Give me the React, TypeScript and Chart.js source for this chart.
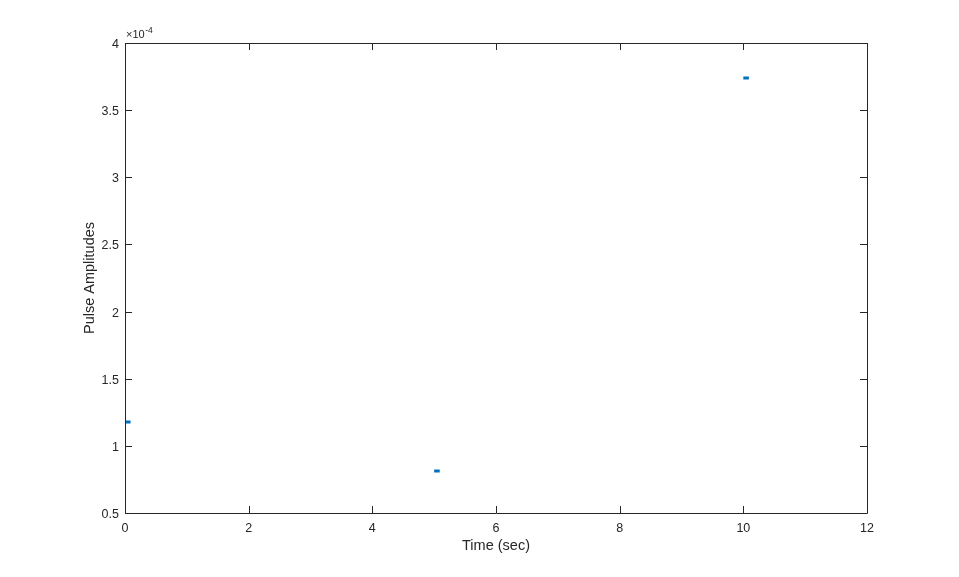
import React, { useEffect, useRef } from "react";
import { Chart, registerables } from "chart.js";

Chart.register(...registerables);

// Data
const pulseTimes = [0, 5, 10]; // sec
const pulseAmplitudes = [1.178e-4, 0.813e-4, 3.739e-4];
const pulseWidth = 0.09; // sec, visible length of each pulse segment
const xTicks = [0, 2, 4, 6, 8, 10, 12];
const yTicks = [0.5e-4, 1e-4, 1.5e-4, 2e-4, 2.5e-4, 3e-4, 3.5e-4, 4e-4];
const exponentLabel = { base: "\u00d710", exp: "-4" };

const AXIS_COLOR = "#262626";
const LINE_COLOR = "#0072BD";
const FONT = "'Liberation Sans', Arial, Helvetica, sans-serif";

const boxPlugin = {
  id: "matlabBox",
  afterDraw(chart: any) {
    const { ctx, chartArea } = chart;
    const { left, right, top, bottom } = chartArea;
    const xs = chart.scales.x;
    const ys = chart.scales.y;
    ctx.save();
    ctx.strokeStyle = AXIS_COLOR;
    ctx.lineWidth = 1;
    ctx.beginPath();
    ctx.rect(Math.round(left) + 0.5, Math.round(top) + 0.5, Math.round(right - left), Math.round(bottom - top));
    ctx.stroke();
    const tl = 7;
    ctx.beginPath();
    for (const v of xTicks) {
      const px = Math.round(xs.getPixelForValue(v)) + 0.5;
      ctx.moveTo(px, bottom);
      ctx.lineTo(px, bottom - tl);
      ctx.moveTo(px, top);
      ctx.lineTo(px, top + tl);
    }
    for (const v of yTicks) {
      const py = Math.round(ys.getPixelForValue(v)) + 0.5;
      ctx.moveTo(left, py);
      ctx.lineTo(left + tl, py);
      ctx.moveTo(right, py);
      ctx.lineTo(right - tl, py);
    }
    ctx.stroke();
    // exponent label
    ctx.fillStyle = AXIS_COLOR;
    ctx.textAlign = "left";
    ctx.textBaseline = "alphabetic";
    ctx.font = `11px ${FONT}`;
    const bx = left + 1;
    ctx.fillText(exponentLabel.base, bx, top - 5);
    const w = ctx.measureText(exponentLabel.base).width;
    ctx.font = `8.5px ${FONT}`;
    ctx.fillText(exponentLabel.exp, bx + w + 0.5, top - 10);
    ctx.restore();
  },
};

export default function App() {
  const ref = useRef<HTMLCanvasElement>(null);
  useEffect(() => {
    document.body.style.margin = "0";
    const data: any[] = [];
    pulseTimes.forEach((t, i) => {
      data.push({ x: t, y: pulseAmplitudes[i] });
      data.push({ x: t + pulseWidth, y: pulseAmplitudes[i] });
      data.push({ x: t + pulseWidth, y: null });
    });
    const chart = new Chart(ref.current as HTMLCanvasElement, {
      type: "line",
      data: {
        datasets: [
          {
            data,
            borderColor: LINE_COLOR,
            borderWidth: 3,
            pointRadius: 0,
            spanGaps: false,
            borderCapStyle: "butt",
          } as any,
        ],
      },
      options: {
        animation: false,
        responsive: false,
        maintainAspectRatio: false,
        layout: { padding: { top: 43, right: 92, left: 0, bottom: 0 } },
        plugins: { legend: { display: false }, tooltip: { enabled: false } },
        scales: {
          x: {
            type: "linear",
            min: 0,
            max: 12,
            afterBuildTicks: (s: any) => {
              s.ticks = xTicks.map((v) => ({ value: v }));
            },
            afterFit: (s: any) => {
              s.height = 64;
            },
            grid: { display: false, drawTicks: false },
            border: { display: false },
            ticks: {
              color: AXIS_COLOR,
              font: { family: FONT, size: 12.5 },
              padding: 8,
              maxRotation: 0,
              autoSkip: false,
            },
            title: {
              display: true,
              text: "Time (sec)",
              color: AXIS_COLOR,
              font: { family: FONT, size: 14.5 },
              padding: { top: 0, bottom: 22 },
            },
          },
          y: {
            type: "linear",
            min: 0.5e-4,
            max: 4e-4,
            afterBuildTicks: (s: any) => {
              s.ticks = yTicks.map((v) => ({ value: v }));
            },
            afterFit: (s: any) => {
              s.width = 125;
            },
            grid: { display: false, drawTicks: false },
            border: { display: false },
            ticks: {
              color: AXIS_COLOR,
              font: { family: FONT, size: 12.5 },
              padding: 6,
              labelOffset: 1.5,
              autoSkip: false,
              callback: (v: any) => String(Number((Number(v) * 1e4).toFixed(2))),
            },
            title: {
              display: true,
              text: "Pulse Amplitudes",
              color: AXIS_COLOR,
              font: { family: FONT, size: 14.5 },
              padding: { top: 81, bottom: 0 },
            },
          },
        },
      },
      plugins: [boxPlugin],
    });
    return () => chart.destroy();
  }, []);
  return (
    <div style={{ position: "absolute", left: 0, top: 0, width: 959, height: 577, background: "#fff" }}>
      <canvas ref={ref} width={959} height={577} style={{ width: 959, height: 577, display: "block" }} />
    </div>
  );
}
